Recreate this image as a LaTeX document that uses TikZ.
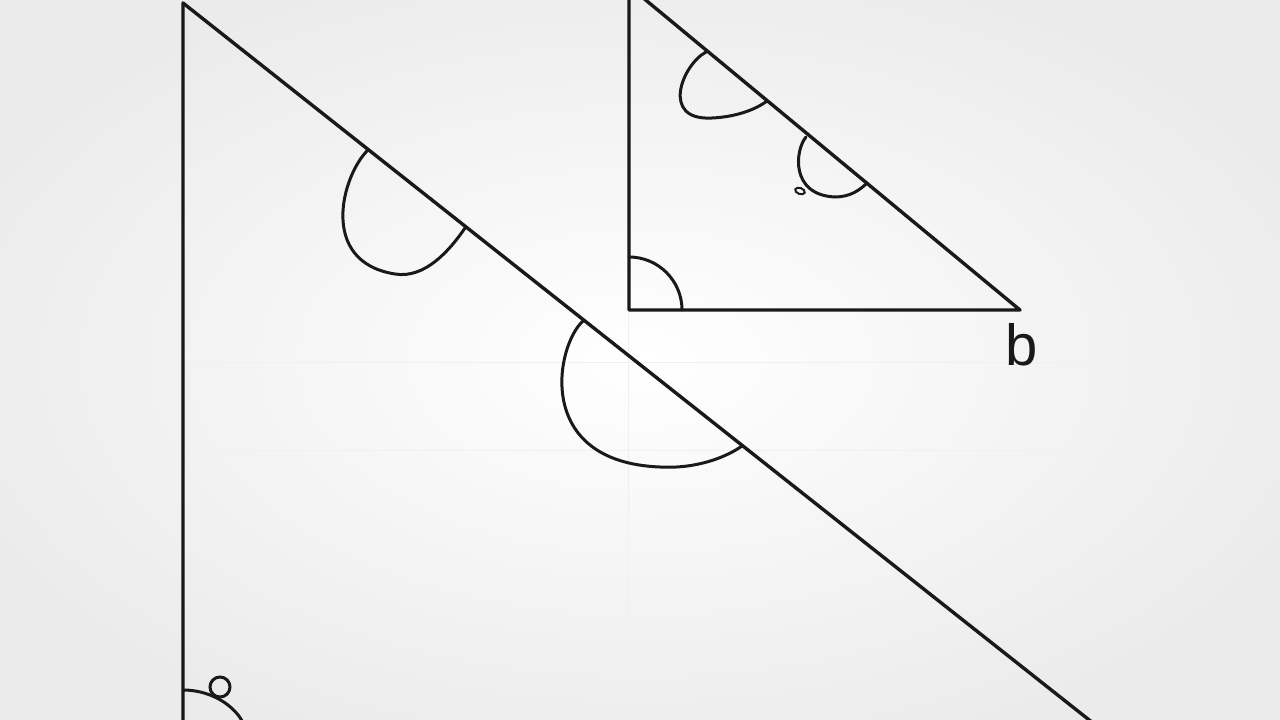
\documentclass[tikz,border=0pt]{standalone}
\usepackage{fontspec}
\setmainfont{Liberation Sans}
\begin{document}
\begin{tikzpicture}[x=1pt,y=-1pt,
  edge/.style={line width=3.4pt, draw=black!90, line cap=round, line join=round},
  anglemark/.style={line width=3pt, draw=black!90, line cap=round},
  gridline/.style={line width=1pt, draw=black!6},
  lbl/.style={font=\fontsize{58}{58}\selectfont, text=black!90, inner sep=0pt}]
\useasboundingbox (0,0) rectangle (1280,720);
\clip (0,0) rectangle (1280,720);
\shade[inner color=white, outer color=black!8] (-100,-60) rectangle (1380,780);
% faint grid
\draw[gridline] (186,362) -- (1088,362);
\draw[gridline] (186,450) -- (1088,450);
\draw[gridline] (628,312) -- (628,730);
% big triangle
\coordinate (A) at (183,3);
\coordinate (B) at (183,760);
\coordinate (C) at (1136,757);
\draw[edge] (B) -- (A) -- (C);
% arcs on big hypotenuse
\draw[anglemark] (368,150) .. controls (342,175) and (318,262) .. (395,274)
                 .. controls (425,279) and (450,250) .. (465,228);
\draw[anglemark] (583,321) .. controls (556,345) and (533,462) .. (660,467)
                 .. controls (695,469) and (725,458) .. (742,446);
% bottom-left mark
\draw[anglemark] (183,690) .. controls (215,690) and (240,710) .. (245,728);
\draw[anglemark] (220,687) circle[radius=10];
% small triangle
\coordinate (P) at (629,-5);
\coordinate (Q) at (629,310);
\coordinate (R) at (1020,310);
\coordinate (S) at (636,-8);
\draw[edge] (P) -- (Q) -- (R) -- (S);
\draw[anglemark] (629,257) arc[start angle=-90, end angle=0, radius=53];
\draw[anglemark] (706,52) .. controls (682,65) and (660,121) .. (712,118)
                 .. controls (735,117) and (755,110) .. (767,101);
\draw[anglemark] (806,137) .. controls (795,150) and (790,195) .. (835,197)
                 .. controls (850,197) and (860,190) .. (867,183);
\draw[line width=2pt, draw=black!90] (800,191) ellipse[x radius=5, y radius=3, rotate=-20];
\node[lbl] (b) at (1022,345) {b};
\end{tikzpicture}
\end{document}
